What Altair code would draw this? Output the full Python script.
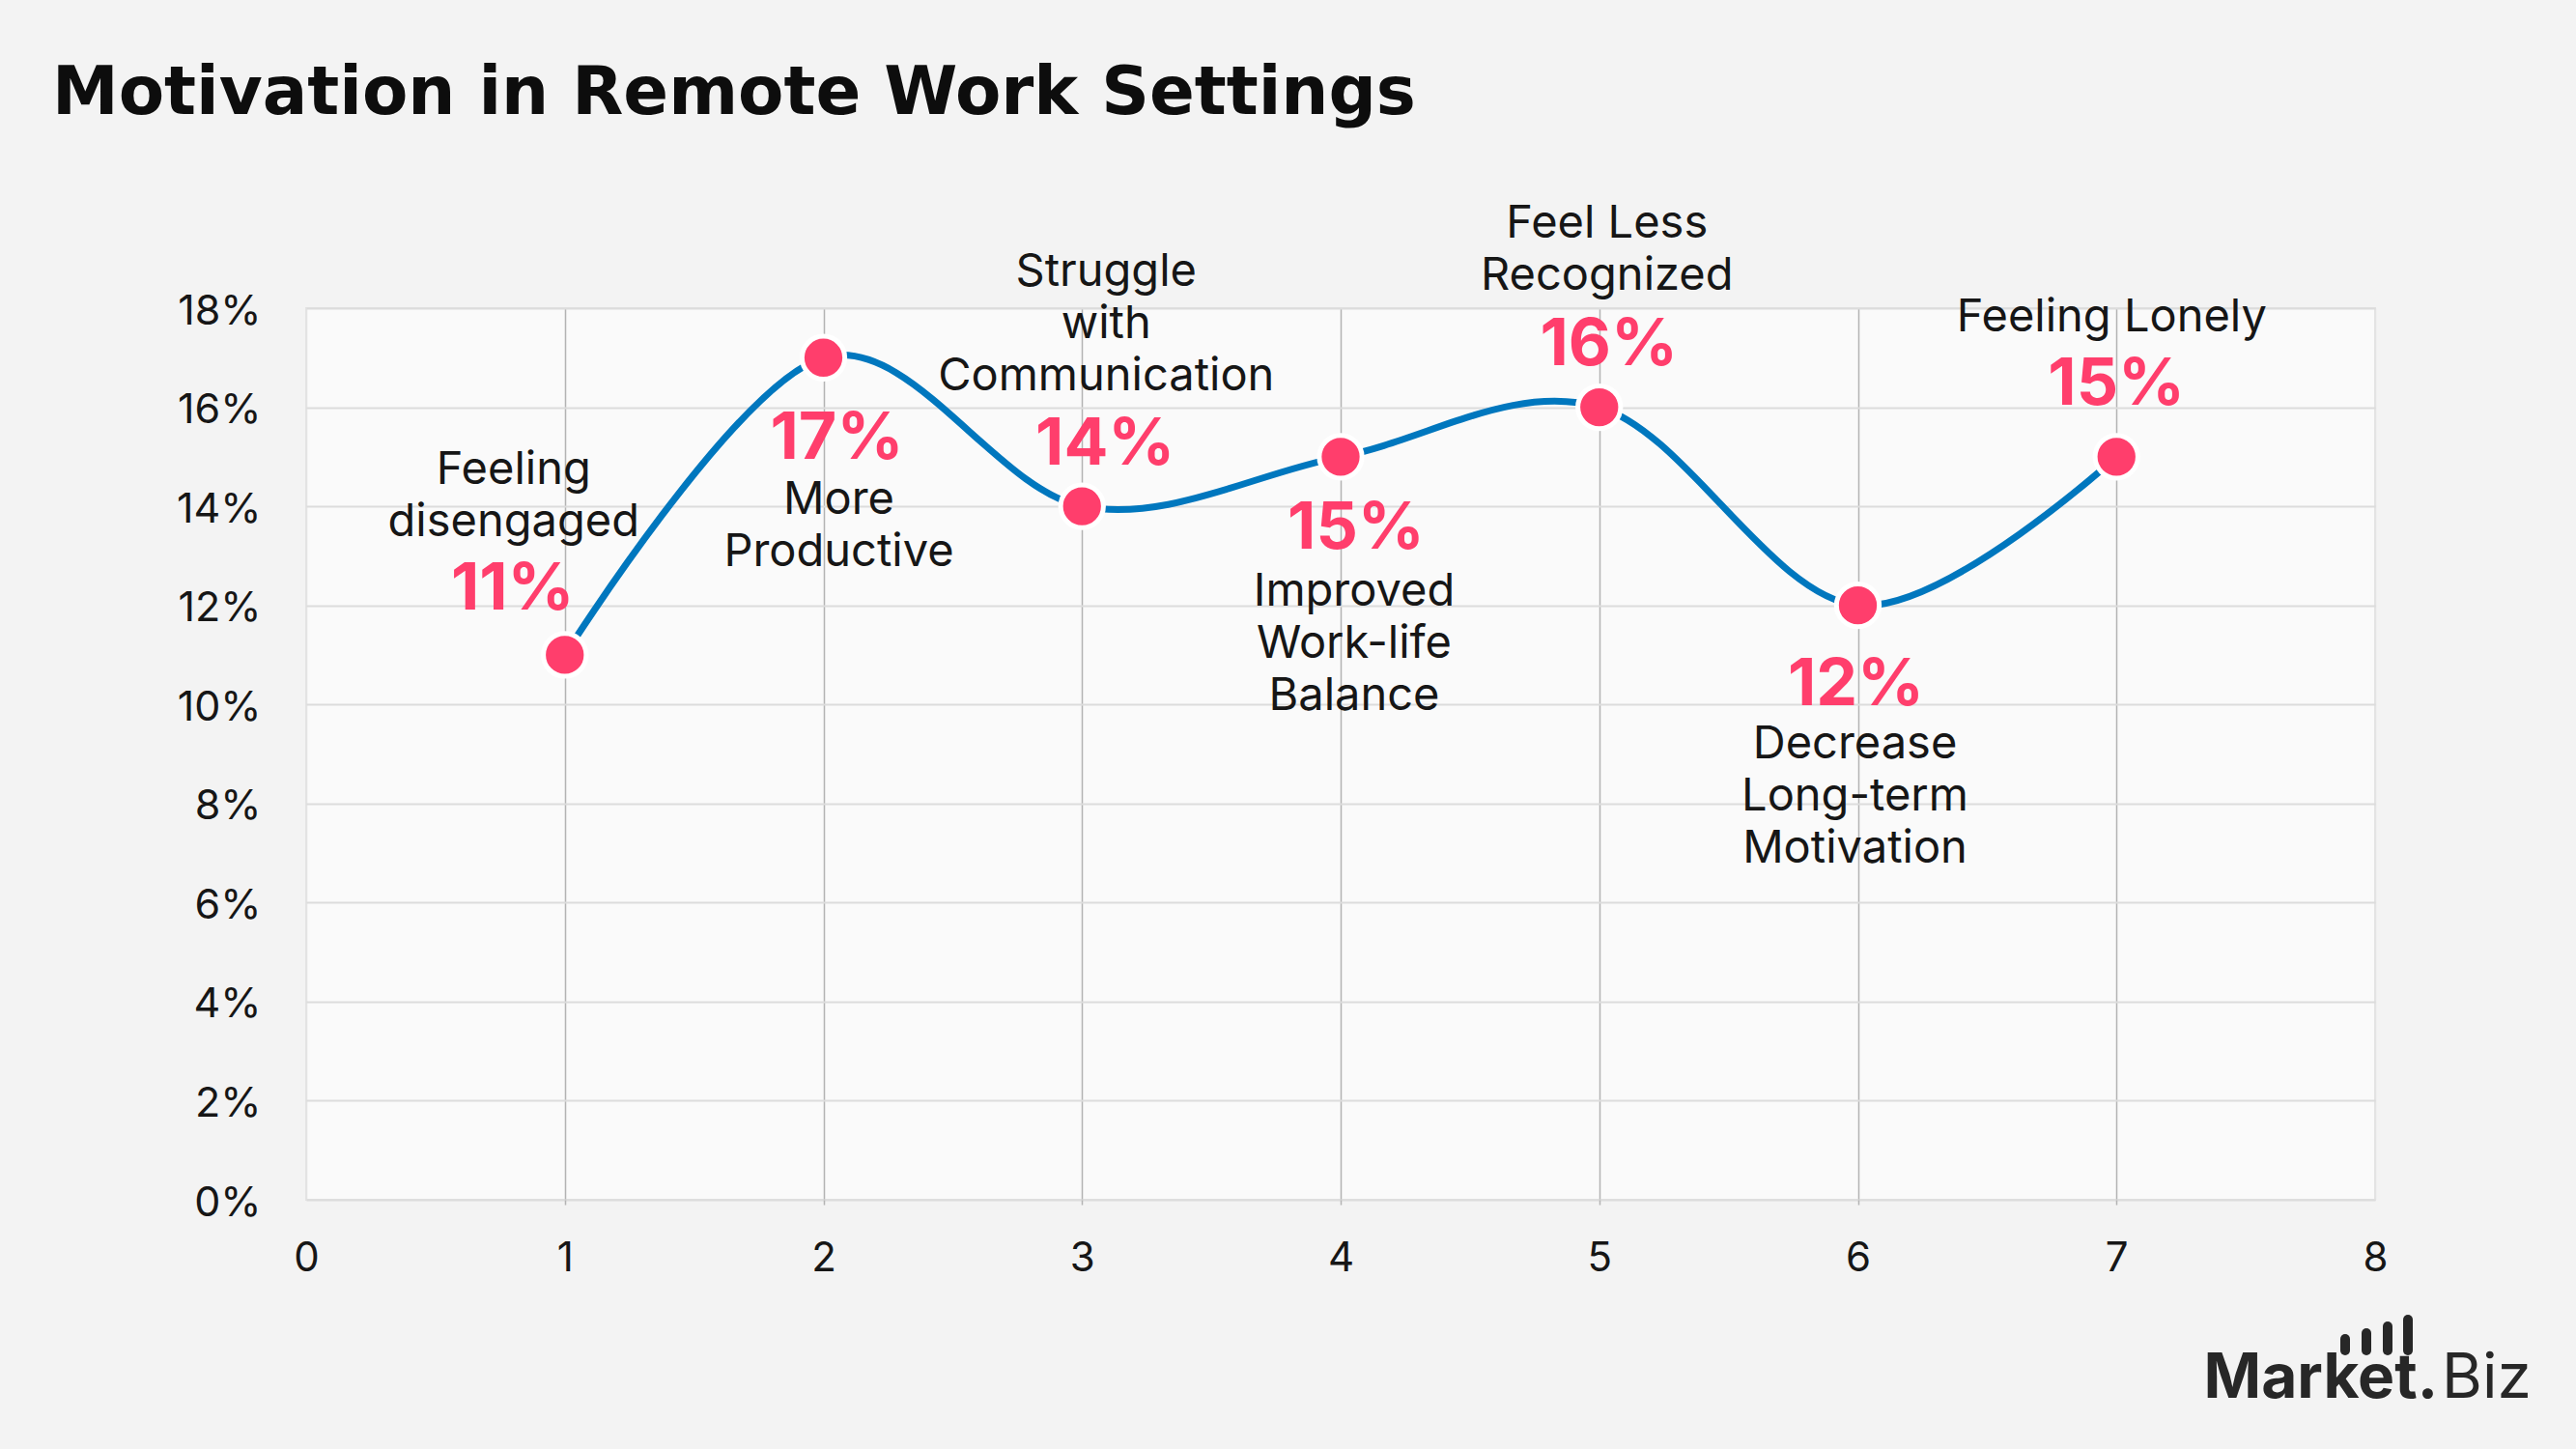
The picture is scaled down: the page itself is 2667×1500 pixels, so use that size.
import altair as alt
import pandas as pd

# Share of remote workers (%) reporting each effect on motivation
positions = [1, 2, 3, 4, 5, 6, 7]
shares = [11, 17, 14, 15, 16, 12, 15]
categories = [
    "Feeling\ndisengaged",
    "More\nProductive",
    "Struggle\nwith\nCommunication",
    "Improved\nWork-life\nBalance",
    "Feel Less\nRecognized",
    "Decrease\nLong-term\nMotivation",
    "Feeling Lonely",
]
x_ticks = [0, 1, 2, 3, 4, 5, 6, 7, 8]
y_ticks = [0, 2, 4, 6, 8, 10, 12, 14, 16, 18]

# Annotation placement around each point, in pixels:
# (value dx, value centre dy, category dx, first category line centre dy)
label_offsets = [
    (-54, -71, -53, -194),
    (14, 81, 16, 145),
    (24, -67, 25, -245),
    (16, 71, 14, 137),
    (10, -68, 8, -193),
    (-2, 79, -3, 141),
    (0, -78, -5, -147),
]

PLOT_W, PLOT_H = 2142, 923
PAD = {"left": 317, "top": 319, "right": 208, "bottom": 258}

FONT = "Inter"
PINK = "#ff3e6c"
BLUE = "#0077be"
INK = "#161616"
VALUE_SIZE = 68
CAT_SIZE = 47
LINE_H = 54

df = pd.DataFrame({"pos": positions, "share": shares, "category": categories})
df["label"] = df["share"].astype(str) + "%"

edge = "datum.value == 0 || datum.value == 8"
x_enc = alt.X(
    "pos:Q",
    title=None,
    scale=alt.Scale(domain=[0, 8], nice=False, zero=False),
    axis=alt.Axis(
        values=x_ticks,
        format="d",
        domain=False,
        grid=True,
        gridColor=alt.condition(edge, alt.value("#e3e3e3"), alt.value("#b3b3b3")),
        gridWidth=1.5,
        ticks=True,
        tickSize=5,
        tickWidth=1.5,
        tickColor=alt.condition(edge, alt.value("transparent"), alt.value("#b3b3b3")),
        labelFont=FONT,
        labelFontSize=42,
        labelColor=INK,
        labelPadding=35,
        labelFlush=False,
    ),
)
y_enc = alt.Y(
    "share:Q",
    title=None,
    scale=alt.Scale(domain=[0, 18], nice=False),
    axis=alt.Axis(
        values=y_ticks,
        labelExpr="datum.value + '%'",
        domain=False,
        ticks=False,
        grid=True,
        gridColor="#dcdcdc",
        gridWidth=2,
        labelFont=FONT,
        labelFontSize=43,
        labelColor=INK,
        labelPadding=47,
        labelOffset=3,
    ),
)

base = alt.Chart(df)

line = base.mark_line(
    interpolate="cardinal", color=BLUE, strokeWidth=7
).encode(x=x_enc, y=y_enc)

points = base.mark_circle(
    size=1963, fill=PINK, stroke="white", strokeWidth=5, opacity=1, fillOpacity=1
).encode(x=x_enc, y=y_enc)

layers = [line, points]

for pos, (vdx, vdy, cdx, cdy) in zip(positions, label_offsets):
    one = base.transform_filter(alt.datum.pos == pos)
    layers.append(
        one.mark_text(
            font=FONT, fontSize=VALUE_SIZE, fontWeight="bold", color=PINK,
            align="center", baseline="middle",
            dx=vdx, dy=vdy + round(0.064 * VALUE_SIZE),
        ).encode(x=x_enc, y=y_enc, text="label:N")
    )
    layers.append(
        one.mark_text(
            font=FONT, fontSize=CAT_SIZE, color=INK,
            align="center", baseline="top", lineBreak="\n", lineHeight=LINE_H,
            dx=cdx, dy=cdy - round(0.426 * CAT_SIZE),
        ).encode(x=x_enc, y=y_enc, text="category:N")
    )

blank = alt.Chart(alt.Data(values=[{}]))

title = blank.mark_text(
    font="DejaVu Sans", fontSize=69, fontWeight="bold", color="#0d0d0d",
    align="left", baseline="alphabetic",
).encode(
    x=alt.value(54 - PAD["left"]),
    y=alt.value(118 - PAD["top"]),
    text=alt.value("Motivation in Remote Work Settings"),
)

# Brand mark in the lower right corner
LOGO = "#272727"
brand_bold = blank.mark_text(
    font=FONT, fontSize=64, fontWeight="bold", color=LOGO,
    align="right", baseline="alphabetic",
).encode(
    x=alt.value(2524 - PAD["left"]),
    y=alt.value(1447 - PAD["top"]),
    text=alt.value("Market."),
)
brand_light = blank.mark_text(
    font=FONT, fontSize=64, fontWeight="normal", color=LOGO,
    align="left", baseline="alphabetic",
).encode(
    x=alt.value(2528 - PAD["left"]),
    y=alt.value(1447 - PAD["top"]),
    text=alt.value("Biz"),
)
bar_marks = []
for bx, top in [(2428, 1386), (2450, 1380), (2472, 1373), (2493, 1366)]:
    bar_marks.append(
        blank.mark_rule(color=LOGO, strokeWidth=10, strokeCap="round").encode(
            x=alt.value(bx - PAD["left"]),
            y=alt.value(top - PAD["top"]),
            y2=alt.value(1398 - PAD["top"]),
        )
    )

layers += [title, brand_bold, brand_light] + bar_marks

chart = (
    alt.layer(*layers)
    .properties(
        width=PLOT_W,
        height=PLOT_H,
        padding=PAD,
        autosize=alt.AutoSizeParams(type="none"),
        background="#f3f3f3",
    )
    .configure_view(fill="#fafafa", stroke="#e3e3e3", strokeWidth=2)
)

chart.save("out.html", embed_options={"renderer": "svg", "actions": False})
